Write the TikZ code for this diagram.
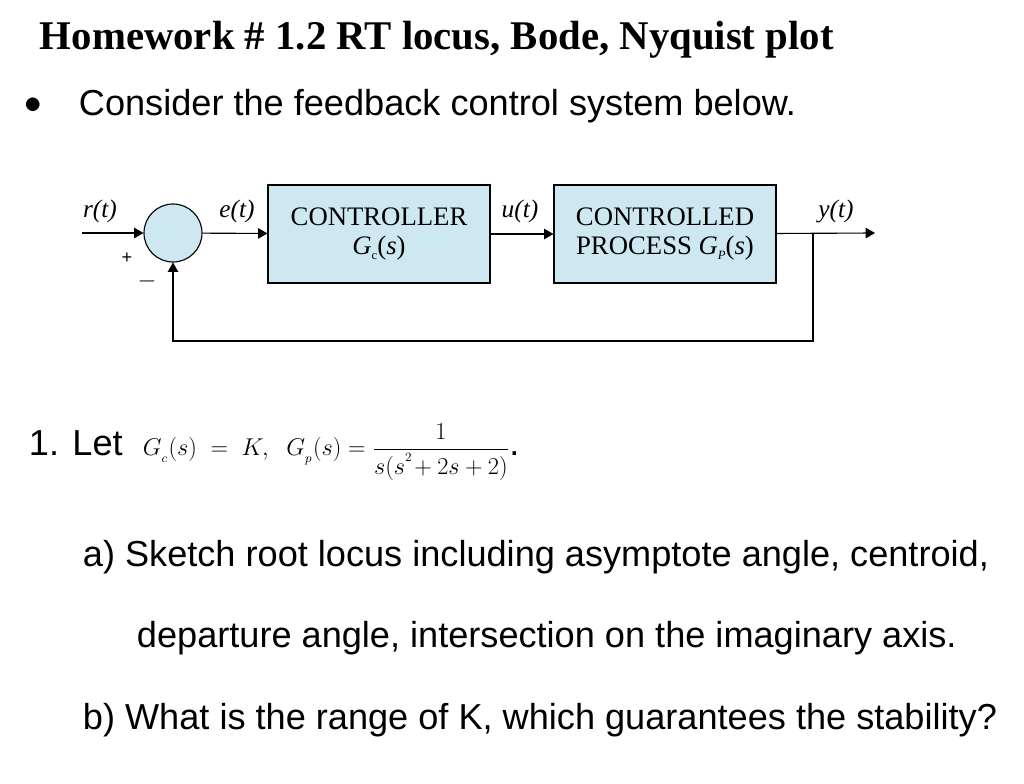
\documentclass[tikz,border=0pt]{standalone}
\usepackage{fontspec}
\setmainfont{Liberation Sans}
\newfontfamily\tms{Liberation Serif}
\usepackage{amsmath}
\usetikzlibrary{arrows,positioning,calc}
\definecolor{boxblue}{RGB}{205,232,241}
\tikzset{
	%Define standard arrow tip
	>=triangle 60,
	%Define style for boxes
	blokk/.style={
		rectangle,
		draw=black, thick,
		fill=boxblue,
		minimum width=5.55cm,
		minimum height=2.45cm,
		align=center,
		font=\tms\fontsize{19}{21}\selectfont},
	% signal labels
	sig/.style={font=\tms\fontsize{18}{20}\selectfont\itshape},
	% Define arrow style
	pil/.style={->, thick},
	tekst/.style={anchor=west, font=\fontsize{25.7}{30}\selectfont}
}
\begin{document}
\begin{tikzpicture}[x=0.025cm, y=-0.025cm]
		\useasboundingbox (0,0) rectangle (1024,783);
		% title
		\node[anchor=west, font=\tms\bfseries\fontsize{29}{34}\selectfont] (title) at (35,40) {Homework \# 1.2 RT locus, Bode, Nyquist plot};
		% bullet
		\node[anchor=west, font=\fontsize{30}{30}\selectfont] (dot) at (20,106) {$\bullet$};
		\node[tekst] (intro) at (74,106) {Consider the feedback control system below.};
		% summing junction
		\node[circle, draw=black, thick, fill=boxblue, minimum size=1.45cm] (sum) at (173,233) {};
		% blocks
		\node[blokk] (ctrl) at (379,234) {CONTROLLER\\\textit{G}\raisebox{-0.4ex}{\small c}(\textit{s})};
		\node[blokk] (proc) at (665,234) {CONTROLLED\\PROCESS \textit{G}\raisebox{-0.4ex}{\small\textit{P}}(\textit{s})};
		\coordinate (in) at (82,233);
		\coordinate (out) at (875,233);
		\coordinate (split) at (813,233);
		\coordinate (fb) at (813,341);
		\draw[pil] (in) -- (sum);
		\draw[pil] (sum) -- (ctrl);
		\draw[pil] (ctrl) -- (proc);
		\draw[pil] (proc) -- (out);
		\draw[pil] (split) -- (fb) -| (sum.south);
		% signal labels
		\node[sig] (r) at (100,211) {r(t)};
		\node[sig] (e) at (237,211) {e(t)};
		\node[sig] (u) at (520,211) {u(t)};
		\node[sig] (y) at (836,211) {y(t)};
		\node[font=\fontsize{13}{13}\selectfont] (plus) at (127,258) {+};
		\node[font=\fontsize{16}{16}\selectfont] (minus) at (147,281) {$-$};
		% question
		\node[tekst] (let) at (24,452) {1. Let \ {\fontsize{19}{22}\selectfont$G_{_c}(s)\;=\;K,\;\;G_{_p}(s)=\dfrac{1}{s(s^{^2}\!+2s+2)}$}.};
		\node[tekst] (qa) at (78,557) {a)\ Sketch root locus including asymptote angle, centroid,};
		\node[tekst] (qa2) at (132,638) {departure angle, intersection on the imaginary axis.};
		\node[tekst] (qb) at (78,720) {b)\ What is the range of K, which guarantees the stability?};
	\end{tikzpicture}
\end{document}
